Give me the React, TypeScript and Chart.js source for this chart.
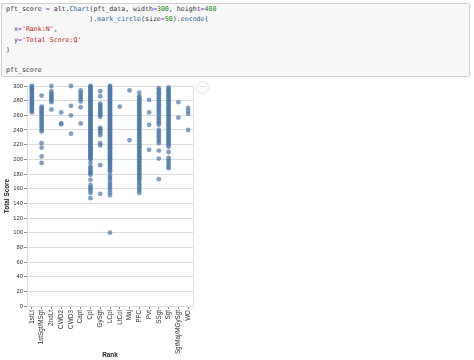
import React, { useEffect, useRef } from "react";
import { Chart, registerables } from "chart.js";

Chart.register(...registerables);

const ranks = [
  "1stLt", "1stSgt/MSgt", "2ndLt", "CWO2", "CWO3", "Capt", "Cpl", "GySgt", "LCpl",
  "LtCol", "Maj", "PFC", "Pvt", "SSgt", "Sgt", "SgtMaj/MGySgt", "WO",
];

const yTicks = { min: 0, max: 300, step: 20 };

const firstLt = [300, 299, 297, 296, 294, 292, 290, 288, 286, 284, 282, 280, 278, 276, 274, 272, 270, 268, 266, 264];
const firstSgtMSgt = [287, 272, 270, 268, 266, 264, 262, 260, 257, 255, 253, 250, 248, 245, 243, 240, 238, 222, 216, 204, 195];
const secondLt = [300, 293, 290, 288, 286, 284, 282, 280, 278, 268];
const cwo2 = [264, 249, 248];
const cwo3 = [300, 273, 260, 235];
const capt = [294, 291, 288, 285, 282, 279, 271, 249];
const cpl = [
  300, 299, 297, 296, 294, 293, 291, 290, 288, 287, 285, 284, 282, 281, 279, 278, 276, 275, 273, 272,
  270, 269, 267, 266, 264, 263, 261, 260, 258, 257, 255, 254, 252, 251, 249, 248, 246, 245, 243, 242,
  240, 239, 237, 236, 234, 233, 231, 230, 228, 227, 225, 224, 222, 221, 219, 218, 216, 215, 213, 212,
  210, 209, 207, 206, 204, 203, 201, 200, 195, 190, 188, 185, 183, 181, 179, 172, 165, 162, 160, 157,
  154, 147,
];
const gySgt = [293, 286, 276, 274, 272, 270, 268, 266, 264, 262, 260, 258, 243, 241, 239, 236, 233, 222, 219, 192, 153];
const lCpl = [
  300, 299, 297, 296, 294, 293, 291, 290, 288, 287, 285, 284, 282, 281, 279, 278, 276, 275, 273, 272,
  270, 269, 267, 266, 264, 263, 261, 260, 258, 257, 255, 254, 252, 251, 249, 248, 246, 245, 243, 242,
  240, 239, 237, 236, 234, 233, 231, 230, 228, 227, 225, 224, 222, 221, 219, 218, 216, 215, 213, 212,
  210, 209, 207, 206, 204, 203, 201, 200, 198, 197, 195, 193, 191, 189, 187, 185, 183, 178, 175, 172,
  168, 165, 162, 159, 155, 151, 100,
];
const ltCol = [272];
const maj = [294, 226];
const pfc = [
  291, 286, 284, 282, 280, 278, 276, 274, 272, 270, 268, 266, 264, 262, 260, 258, 256, 254, 252, 250,
  248, 246, 244, 242, 240, 238, 236, 234, 232, 230, 228, 226, 224, 222, 220, 218, 216, 214, 212, 210,
  208, 206, 204, 202, 200, 198, 196, 194, 192, 190, 188, 186, 184, 182, 180, 178, 176, 174, 172, 169,
  166, 163, 160, 157, 154,
];
const pvt = [281, 264, 247, 213];
const sSgt = [
  297, 295, 292, 290, 288, 285, 283, 280, 278, 275, 273, 270, 268, 265, 263, 260, 257, 255, 252, 250,
  247, 240, 237, 234, 231, 228, 225, 222, 212, 201, 173,
];
const sgt = [
  298, 296, 294, 292, 290, 288, 286, 284, 282, 280, 278, 276, 274, 272, 270, 268, 266, 264, 262, 260,
  258, 256, 254, 252, 250, 248, 246, 244, 242, 240, 238, 236, 234, 232, 230, 228, 226, 224, 222, 220,
  217, 210, 202, 199, 196, 193, 190, 188,
];
const sgtMajMGySgt = [278, 257];
const wo = [270, 266, 262, 240];

const scoresByRank = [
  firstLt, firstSgtMSgt, secondLt, cwo2, cwo3, capt, cpl, gySgt, lCpl,
  ltCol, maj, pfc, pvt, sSgt, sgt, sgtMajMGySgt, wo,
];

const FONT = "'Liberation Sans', Arial, sans-serif";

const viewBorder = {
  id: "viewBorder",
  beforeDatasetsDraw(chart: any) {
    const { ctx, chartArea } = chart;
    ctx.save();
    ctx.strokeStyle = "#dddddd";
    ctx.lineWidth = 1;
    ctx.strokeRect(
      Math.round(chartArea.left) + 0.5,
      Math.round(chartArea.top) + 0.5,
      Math.round(chartArea.right - chartArea.left),
      Math.round(chartArea.bottom - chartArea.top)
    );
    ctx.restore();
  },
};

function ScoreChart() {
  const ref = useRef<HTMLCanvasElement | null>(null);
  useEffect(() => {
    if (!ref.current) return;
    const points: { x: string; y: number }[] = [];
    ranks.forEach((r, i) => {
      scoresByRank[i].forEach((v) => points.push({ x: r, y: v }));
    });
    const chart = new Chart(ref.current, {
      type: "scatter",
      data: {
        labels: ranks,
        datasets: [
          {
            data: points as any,
            backgroundColor: "rgba(76,120,168,0.7)",
            borderWidth: 0,
            pointRadius: 2.4,
            pointHoverRadius: 2.4,
            clip: false as any,
          },
        ],
      },
      options: {
        animation: false,
        responsive: false,
        maintainAspectRatio: false,
        events: [],
        layout: { padding: { top: 8, right: 47, left: 0, bottom: 0 } },
        plugins: { legend: { display: false }, tooltip: { enabled: false } },
        scales: {
          x: {
            type: "category",
            labels: ranks,
            offset: true,
            afterFit: (s: any) => {
              s.height = 54;
            },
            grid: {
              display: true,
              drawOnChartArea: false,
              drawTicks: true,
              tickLength: 3,
              tickColor: "#888888",
              offset: false,
            },
            border: { display: true, color: "#888888", width: 1 },
            ticks: {
              minRotation: 90,
              maxRotation: 90,
              autoSkip: false,
              padding: 1,
              color: "#333333",
              font: { family: FONT, size: 6.3 },
            },
            title: {
              display: true,
              text: "Rank",
              color: "#222222",
              font: { family: FONT, size: 6.4, weight: "bold" },
              padding: { top: 0, bottom: 1 },
            },
          },
          y: {
            type: "linear",
            min: yTicks.min,
            max: yTicks.max,
            afterFit: (s: any) => {
              s.width = 27;
            },
            grid: {
              color: "#dddddd",
              tickColor: "#888888",
              tickLength: 3,
              drawTicks: true,
            },
            border: { display: true, color: "#888888", width: 1 },
            ticks: {
              stepSize: yTicks.step,
              padding: 1,
              color: "#333333",
              font: { family: FONT, size: 5.8 },
            },
            title: {
              display: true,
              text: "Total Score",
              color: "#222222",
              font: { family: FONT, size: 6.4, weight: "bold" },
              padding: { top: 3.7, bottom: 0 },
            },
          },
        },
      },
      plugins: [viewBorder],
    });
    return () => chart.destroy();
  }, []);
  return (
    <canvas
      ref={ref}
      width={240}
      height={282}
      style={{ position: "absolute", left: 0, top: 78, width: 240, height: 282 }}
    />
  );
}

const codeLines: { t: string; c: string }[][] = [
  [
    { t: "pft_score ", c: "#333" },
    { t: "=", c: "#a2f" },
    { t: " alt.", c: "#333" },
    { t: "Chart", c: "#2a6a9a" },
    { t: "(pft_data, width", c: "#333" },
    { t: "=", c: "#a2f" },
    { t: "300", c: "#080" },
    { t: ", height", c: "#333" },
    { t: "=", c: "#a2f" },
    { t: "400", c: "#080" },
  ],
  [
    { t: "                     ).", c: "#333" },
    { t: "mark_circle", c: "#2a6a9a" },
    { t: "(size", c: "#333" },
    { t: "=", c: "#a2f" },
    { t: "50", c: "#080" },
    { t: ").", c: "#333" },
    { t: "encode", c: "#2a6a9a" },
    { t: "(", c: "#333" },
  ],
  [
    { t: "  x", c: "#333" },
    { t: "=", c: "#a2f" },
    { t: "'Rank:N'", c: "#ba2121" },
    { t: ",", c: "#333" },
  ],
  [
    { t: "  y", c: "#333" },
    { t: "=", c: "#a2f" },
    { t: "'Total Score:Q'", c: "#ba2121" },
  ],
  [{ t: ")", c: "#333" }],
  [{ t: " ", c: "#333" }],
  [{ t: "pft_score", c: "#333" }],
];

export default function App() {
  return (
    <div
      style={{
        position: "fixed",
        left: 0,
        top: 0,
        width: 474,
        height: 360,
        background: "#ffffff",
        overflow: "hidden",
      }}
    >
      <div
        style={{
          position: "absolute",
          left: 1,
          top: 3,
          width: 469,
          height: 74,
          background: "#f7f7f7",
          border: "1px solid #cfcfcf",
          borderRadius: 2,
          boxSizing: "border-box",
        }}
      />
      <div
        style={{
          position: "absolute",
          left: 6,
          top: 4,
          fontFamily: "'DejaVu Sans Mono', 'Liberation Mono', monospace",
          fontSize: 6.6,
          lineHeight: "10.2px",
          whiteSpace: "pre",
        }}
      >
        {codeLines.map((line, i) => (
          <div key={i}>
            {line.map((s, j) => (
              <span key={j} style={{ color: s.c }}>
                {s.t}
              </span>
            ))}
          </div>
        ))}
      </div>
      <ScoreChart />
      <div
        style={{
          position: "absolute",
          left: 196,
          top: 81,
          width: 13,
          height: 13,
          borderRadius: "50%",
          border: "1px solid #e2e2e2",
          boxSizing: "border-box",
          color: "#aaa",
          fontFamily: FONT,
          fontSize: 7,
          lineHeight: "9px",
          textAlign: "center",
        }}
      >
        ···
      </div>
    </div>
  );
}
